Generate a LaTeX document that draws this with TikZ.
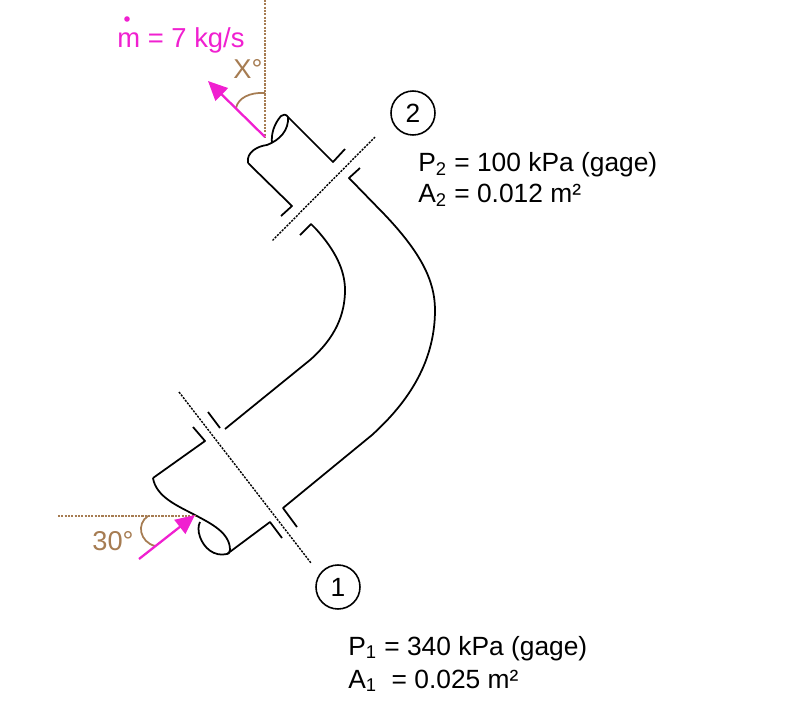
\documentclass[tikz,border=0pt]{standalone}
\usepackage{fontspec}
\setmainfont{Liberation Sans}
\usetikzlibrary{arrows.meta}
\definecolor{anglebrown}{HTML}{A67C52}
\definecolor{flowpink}{HTML}{F020D0}
\tikzset{
	pipe/.style={line width=1pt,black,line join=round},
	cutline/.style={line width=0.8pt,black,dash pattern=on 1.2pt off 0.7pt},
	refline/.style={line width=0.8pt,anglebrown,dash pattern=on 1.2pt off 0.7pt},
	flow/.style={line width=1.3pt,flowpink,-{Triangle[length=11pt,width=10pt]}},
	statelabel/.style={circle,draw,line width=0.9pt,minimum size=0.88cm,inner sep=0pt,font=\fontsize{15}{15}\selectfont},
	datatext/.style={anchor=base west,inner sep=0pt,font=\fontsize{15}{15}\selectfont},
	brown text/.style={text=anglebrown,inner sep=0pt,font=\fontsize{15.5}{15.5}\selectfont}
}
\begin{document}
\begin{tikzpicture}[x=0.02cm,y=-0.02cm]
	\useasboundingbox (0,0) rectangle (806,708);
	% upper tube
	\draw[pipe] (345,149) -- (333,162) -- (288,117);
	\draw[pipe] (281,216) -- (292,206) -- (248,163);
	\draw[pipe] (248,163) .. controls (246,152) and (258,146) .. (267,145)
		.. controls (280,140) and (289,130) .. (288,117)
		.. controls (286,114) and (283,114) .. (281,116)
		.. controls (274,124) and (271,134) .. (272,143);
	\draw[cutline] (375,137) -- (272,241);
	% bend
	\draw[pipe] (360,168) -- (349,178) -- (385,215)
		.. controls (420,252) and (435,280) .. (435,310)
		.. controls (435,365) and (405,405) .. (372,435)
		-- (283,508) -- (297,527);
	\draw[pipe] (300,235) -- (311,224) -- (316,229)
		.. controls (335,250) and (345,270) .. (345,290)
		.. controls (345,315) and (335,338) .. (310,360)
		-- (225,429);
	\draw[pipe] (208,412) -- (220,428);
	% lower tube
	\draw[pipe] (193,427) -- (205,441) -- (153,478);
	\draw[pipe] (153,478) .. controls (156,497) and (178,506) .. (195,515)
		.. controls (212,524) and (230,533) .. (230,550)
		.. controls (230,553) and (228,554) .. (227,554)
		.. controls (214,557) and (204,548) .. (200,537)
		.. controls (198,531) and (198,526) .. (200,522);
	\draw[pipe] (227,554) -- (270,522) -- (282,538);
	\draw[cutline] (179,392) -- (311,563);
	% angles and flow
	\draw[refline] (58,516) -- (195,516);
	\draw[refline] (265,0) -- (265,137);
	\draw[anglebrown,line width=1pt] (148,516) .. controls (136,524) and (140,542) .. (155,546);
	\draw[anglebrown,line width=1pt] (265,93) .. controls (250,92) and (238,98) .. (236,108);
	\draw[flow] (139,559) -- (195,515);
	\draw[flow] (265,137) -- (208,81);
	\node[brown text] (xangle) at (248,69) {X°};
	\node[brown text] (inangle) at (113,541) {30°};
	\node[anchor=base west,inner sep=0pt,text=flowpink,font=\fontsize{15.6}{15.6}\selectfont] (mdot) at (117,47) {m = 7 kg/s};
	\fill[flowpink] (127,19) circle (2.8);
	% stations
	\node[statelabel] (station2) at (413,113) {2};
	\node[statelabel] (station1) at (338,587) {1};
	\node[datatext] (p2) at (418,171) {P\textsubscript{2} = 100 kPa (gage)};
	\node[datatext] (a2) at (418,202) {A\textsubscript{2} = 0.012 m²};
	\node[datatext] (p1) at (348,655) {P\textsubscript{1} = 340 kPa (gage)};
	\node[datatext] (a1) at (348,688) {A\textsubscript{1}\ \ = 0.025 m²};
\end{tikzpicture}
\end{document}
